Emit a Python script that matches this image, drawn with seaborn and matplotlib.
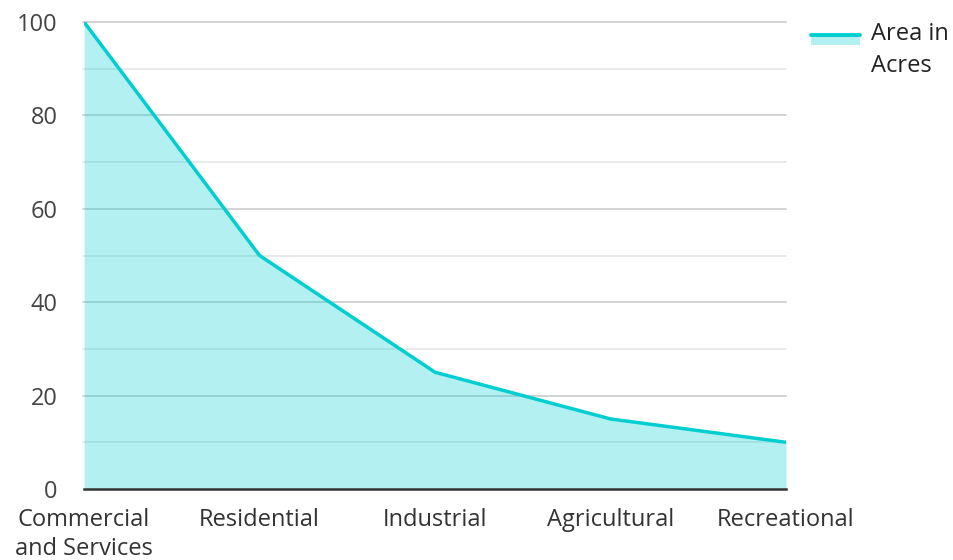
import matplotlib
matplotlib.use("Agg")
import matplotlib.pyplot as plt
import seaborn as sns
import pandas as pd
from matplotlib.legend_handler import HandlerBase
from matplotlib.patches import Rectangle
from matplotlib.lines import Line2D

categories = ["Commercial\nand Services", "Residential", "Industrial", "Agricultural", "Recreational"]
values = [100, 50, 25, 15, 10]
series_name = "Area in\nAcres"
y_ticks = [0, 20, 40, 60, 80, 100]

line_color = "#00CED1"
FS = 17

sns.set_theme(style="white")
plt.rcParams['font.family'] = ['Open Sans', 'DejaVu Sans']

df = pd.DataFrame({"x": range(len(categories)), "y": values})

fig = plt.figure(figsize=(9.54, 5.6), dpi=100)
ax = fig.add_axes([0.0881, 0.1268, 0.8239 - 0.0881, 0.9607 - 0.1268])

for v in range(10, 101, 10):
    ax.axhline(v, color="#cccccc" if v % 20 == 0 else "#e6e6e6", lw=1.2, zorder=0,
               xmin=-0.002, clip_on=False)

ax.fill_between(df["x"], df["y"], 0, color=line_color, alpha=0.3, lw=0, zorder=1)
sns.lineplot(data=df, x="x", y="y", ax=ax, color=line_color, lw=2.5, zorder=3, legend=False)

ax.set_xlim(0, len(categories) - 1)
ax.set_ylim(0, 100)
ax.set_xticks(range(len(categories)))
ax.set_xticklabels(categories, fontsize=FS, color="#333333", linespacing=1.25)
ax.set_yticks(y_ticks)
ax.set_yticklabels([str(t) for t in y_ticks], fontsize=FS, color="#444444")
ax.tick_params(axis="y", length=0, pad=19)
ax.tick_params(axis="x", length=0, pad=14)
ax.set_xlabel("")
ax.set_ylabel("")
for s in ["top", "right", "left"]:
    ax.spines[s].set_visible(False)
ax.spines["bottom"].set_color("#333333")
ax.spines["bottom"].set_linewidth(1.8)
ax.spines["bottom"].set_zorder(4)


class AreaHandler(HandlerBase):
    def create_artists(self, legend, orig_handle, xdescent, ydescent, width, height, fontsize, trans):
        top = -ydescent + height - 0.1 * fontsize
        rh = 0.42 * fontsize
        r = Rectangle((-xdescent, top - rh), width, rh, facecolor=line_color,
                      alpha=0.3, lw=0, transform=trans)
        l = Line2D([-xdescent, -xdescent + width], [top, top],
                   color=line_color, lw=2.8, transform=trans)
        return [r, l]


handle = Rectangle((0, 0), 1, 1)
leg = fig.legend([handle], [series_name], handler_map={Rectangle: AreaHandler()},
                 loc="upper left", bbox_to_anchor=(0.85, 0.96), frameon=False,
                 fontsize=FS, handlelength=2.1, handleheight=2.2, handletextpad=0.45,
                 labelcolor="#222222", borderaxespad=0, borderpad=0)
for t in leg.get_texts():
    t.set_linespacing(1.45)

fig.savefig("out.png", dpi=100)
